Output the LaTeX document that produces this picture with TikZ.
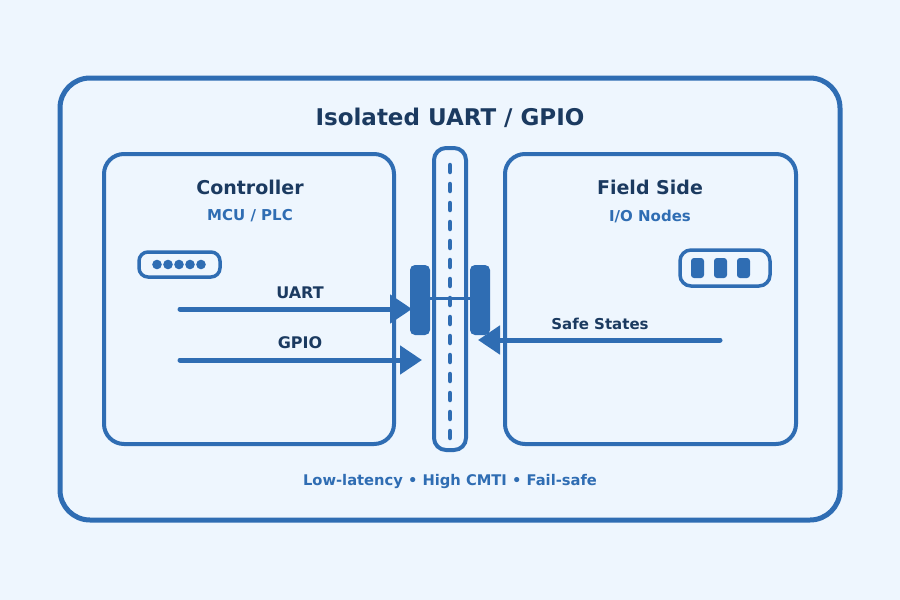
\documentclass[tikz,border=0pt]{standalone}
\usepackage{fontspec}
\setmainfont{DejaVu Sans}
\usetikzlibrary{arrows.meta}
\definecolor{bg}{HTML}{EEF6FE}
\definecolor{bl}{HTML}{2F6DB3}
\definecolor{dk}{HTML}{1B3A60}
\tikzset{x=1pt,y=-1pt,
 panel/.style={draw=bl,line width=4pt,rounded corners=20pt},
 blk/.style={fill=bl,rounded corners=5pt},
 sig/.style={draw=bl,line width=5pt,line cap=round,-{Triangle[length=22pt,width=28pt]}},
 ttl/.style={font=\bfseries,text=dk},
 sub/.style={font=\bfseries,text=bl}}
\begin{document}
\begin{tikzpicture}
\fill[bg] (0,0) rectangle (900,600);
\useasboundingbox (0,0) rectangle (900,600);
\draw[draw=bl,line width=5pt,rounded corners=30pt] (60,78) rectangle (840,520);
\node[ttl,font=\fontsize{23}{28}\selectfont\bfseries] (t) at (450,118) {Isolated UART / GPIO};
\draw[panel] (104,154) rectangle (394,444);
\draw[panel] (505,154) rectangle (796,444);
\draw[panel,rounded corners=12pt] (434,148) rectangle (466,450);
\draw[bl,line width=4.5pt,line cap=round,dash pattern=on 7pt off 12pt] (450,165) -- (450,440);
\node[ttl,font=\fontsize{19}{22}\selectfont\bfseries] (c) at (250,187) {Controller};
\node[sub,font=\fontsize{15}{18}\selectfont\bfseries] (cs) at (250,216) {MCU / PLC};
\node[ttl,font=\fontsize{19}{22}\selectfont\bfseries] (f) at (650,187) {Field Side};
\node[sub,font=\fontsize{15}{18}\selectfont\bfseries] (fs) at (650,216) {I/O Nodes};
% pills
\draw[bl,line width=3.5pt,rounded corners=9pt] (139,252) rectangle (220,277);
\foreach \i in {0,...,4} \fill[bl] (157+11*\i,264.5) circle (4.8);
\draw[bl,line width=3.5pt,rounded corners=11pt] (680,250) rectangle (770,286);
\foreach \i in {0,1,2} \fill[bl,rounded corners=3pt] (691+23*\i,258) rectangle ++(13,20);
% blocks
\node[blk,minimum width=20pt,minimum height=70pt,inner sep=0] (bl) at (420,300) {};
\node[blk,minimum width=20pt,minimum height=70pt,inner sep=0] (br) at (480,300) {};
\draw[bl,line width=3pt] (bl.east |- 0,298) -- (br.west |- 0,298);
\coordinate (u0) at (180,309); \coordinate (u1) at (412,309);
\coordinate (g0) at (180,360); \coordinate (g1) at (422,360);
\coordinate (s0) at (720,340); \coordinate (s1) at (478,340);
\draw[sig] (u0) -- (u1);
\draw[sig] (g0) -- (g1);
\draw[sig] (s0) -- (s1);
\node[ttl,font=\fontsize{16}{19}\selectfont\bfseries] (ul) at (300,293) {UART};
\node[ttl,font=\fontsize{16}{19}\selectfont\bfseries] (gl) at (300,343) {GPIO};
\node[ttl,font=\fontsize{15}{18}\selectfont\bfseries] (sl) at (600,324) {Safe States};
\node[sub,font=\fontsize{14.7}{18}\selectfont\bfseries] (b) at (450,481) {Low-latency • High CMTI • Fail-safe};
\end{tikzpicture}
\end{document}
